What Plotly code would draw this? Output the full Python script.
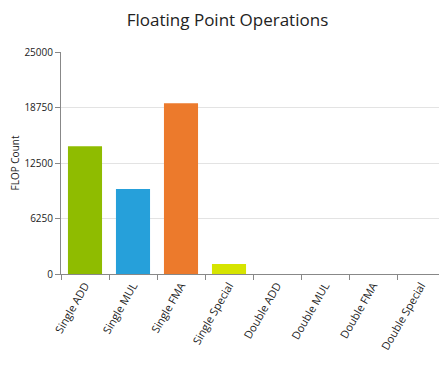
import plotly.graph_objects as go

categories = ["Single ADD", "Single MUL", "Single FMA", "Single Special",
              "Double ADD", "Double MUL", "Double FMA", "Double Special"]
values = [14400, 9570, 19220, 1130, 0, 0, 0, 0]
bar_colors = ["#8FBC00", "#26A0DA", "#EC7A2C", "#D6E400",
              "#8FBC00", "#26A0DA", "#EC7A2C", "#D6E400"]
y_ticks = [0, 6250, 12500, 18750, 25000]

fig = go.Figure(go.Bar(x=categories, y=values, marker=dict(color=bar_colors, line=dict(width=0))))

# page body has an 8px default margin, so the figure is sized/positioned to compensate
font_family = "Open Sans, Noto Sans, sans-serif"
fig.update_layout(
    width=439, height=358,
    margin=dict(l=53, r=2, t=44, b=92, autoexpand=False),
    paper_bgcolor="white", plot_bgcolor="white",
    bargap=0.29,
    showlegend=False,
    title=dict(text="Floating Point Operations", x=0.5, xanchor="center", y=0.965, yanchor="middle",
               font=dict(family=font_family, size=17, color="#222"), automargin=False),
    font=dict(family=font_family, size=10, color="#222"),
)
fig.update_xaxes(
    type="category", tickangle=-60, tickson="boundaries", automargin=False,
    showline=True, linecolor="#888", linewidth=1,
    ticks="outside", ticklen=5, tickcolor="#888",
    showgrid=False, tickfont=dict(size=11, color="#222"),
)
fig.update_yaxes(
    range=[0, 25000], tickvals=y_ticks, ticktext=[str(v) for v in y_ticks], automargin=False,
    showline=True, linecolor="#888", linewidth=1,
    ticks="outside", ticklen=5, tickcolor="#888",
    showgrid=True, gridcolor="#e3e3e3", gridwidth=1, zeroline=False,
    tickfont=dict(size=10, color="#222"),
    title=dict(text="FLOP Count", font=dict(size=10, color="#222"), standoff=19),
)
fig.write_html("out.html")
